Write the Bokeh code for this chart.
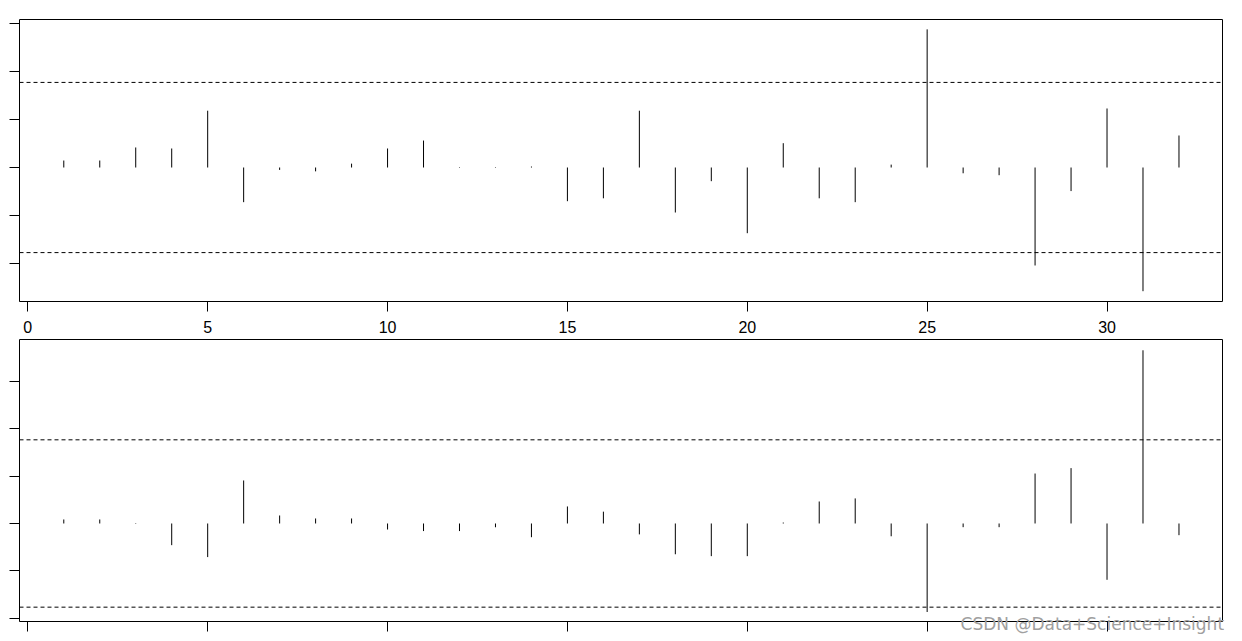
from bokeh.plotting import figure
from bokeh.models import Range1d, FixedTicker, Label, CustomJSTickFormatter, BoxAnnotation
from bokeh.layouts import column
from bokeh.embed import file_html
from bokeh.resources import INLINE

lags = list(range(1, 33))
top_vals = [0.0145, 0.0145, 0.0416, 0.0395, 0.118, -0.072, -0.005, -0.008, 0.008, 0.0395,
            0.056, 0.001, 0.001, 0.002, -0.070, -0.064, 0.118, -0.0935, -0.0284, -0.1365,
            0.0505, -0.064, -0.072, 0.006, 0.287, -0.012, -0.016, -0.2036, -0.049, 0.1226,
            -0.257, 0.0665]
bottom_vals = [0.0085, 0.0085, 0.001, -0.0458, -0.071, 0.0909, 0.0169, 0.0106, 0.0106, -0.0127,
               -0.016, -0.016, -0.008, -0.029, 0.036, 0.025, -0.023, -0.065, -0.069, -0.069,
               0.002, 0.0465, 0.053, -0.027, -0.187, -0.0078, -0.0078, 0.1056, 0.117, -0.119,
               0.366, -0.0247]
conf_bound = 0.1768
x_ticks = [0, 5, 10, 15, 20, 25, 30]
y_ticks = [-0.2, -0.1, 0.0, 0.1, 0.2, 0.3]
watermark = "CSDN @Data+Science+Insight"

# plot-box extents in data units
X_LO, X_HI = -0.231, 33.21
Y1_LO, Y1_HI = -0.2784, 0.3075
Y2_LO, Y2_HI = -0.2071, 0.3888

W = 1242
BOX_W = 1203          # box width in px (19 .. 1222)
BOX_H = 282           # box height in px
EXTRA_RIGHT = 2       # frame extends this many px right of the box
PXX = BOX_W / (X_HI - X_LO)
X_VIEW_HI = X_HI + EXTRA_RIGHT / PXX


def blank_labels(axis):
    axis.formatter = CustomJSTickFormatter(code="return '';")
    axis.major_label_standoff = 0
    axis.major_label_text_font_size = "1px"


def panel(vals, height, y_lo, y_hi, top_pad, bottom_pad, mb_top, mb_bottom):
    pxy = BOX_H / (y_hi - y_lo)
    p = figure(width=W, height=height, output_backend="svg", toolbar_location=None,
               x_range=Range1d(X_LO, X_VIEW_HI),
               y_range=Range1d(y_lo - bottom_pad / pxy, y_hi + top_pad / pxy),
               min_border_left=19, min_border_right=W - 19 - BOX_W - EXTRA_RIGHT,
               min_border_top=mb_top, min_border_bottom=mb_bottom)
    p.grid.visible = False
    p.outline_line_color = None
    p.add_layout(BoxAnnotation(left=X_LO, right=X_HI, bottom=y_lo, top=y_hi,
                               fill_color=None, fill_alpha=0, line_color="black",
                               line_alpha=1, line_width=1))
    p.segment(x0=lags, y0=[0] * len(lags), x1=lags, y1=vals, line_color="black", line_width=1)
    p.segment(x0=[X_LO, X_LO], y0=[conf_bound, -conf_bound], x1=[X_HI, X_HI],
              y1=[conf_bound, -conf_bound], line_color="black", line_width=1, line_dash="4 3")
    xa, ya = p.xaxis[0], p.yaxis[0]
    for ax in (xa, ya):
        ax.minor_tick_line_color = None
        ax.major_tick_in = 0
        ax.major_tick_out = 10
        ax.major_tick_line_color = "black"
        ax.axis_line_color = "black"
    xa.ticker = FixedTicker(ticks=x_ticks)
    xa.bounds = (X_LO, X_HI)
    ya.ticker = FixedTicker(ticks=y_ticks)
    ya.bounds = (y_lo, y_hi)
    blank_labels(ya)
    return p


# top panel: canvas 0..338, box 19..301, frame 17..301
p1 = panel(top_vals, 338, Y1_LO, Y1_HI, top_pad=2, bottom_pad=0, mb_top=17, mb_bottom=37)
p1.xaxis[0].major_label_text_font = "Liberation Sans"
p1.xaxis[0].major_label_text_font_size = "16px"
p1.xaxis[0].major_label_text_color = "black"
p1.xaxis[0].major_label_standoff = 9

# bottom panel: canvas 338..641, box 339..621, frame 338..641 (room for the watermark)
p2 = panel(bottom_vals, 303, Y2_LO, Y2_HI, top_pad=1, bottom_pad=20, mb_top=0, mb_bottom=0)
p2.xaxis[0].fixed_location = Y2_LO
blank_labels(p2.xaxis[0])
p2.add_layout(Label(x=25.93, y=-0.2134, text=watermark, text_font="DejaVu Sans",
                    text_font_size="17px", text_color="#a0a0a0", text_baseline="alphabetic",
                    text_align="left", level="overlay"))

layout = column(p1, p2, spacing=0)
open("out.html", "w").write(file_html(layout, INLINE))
